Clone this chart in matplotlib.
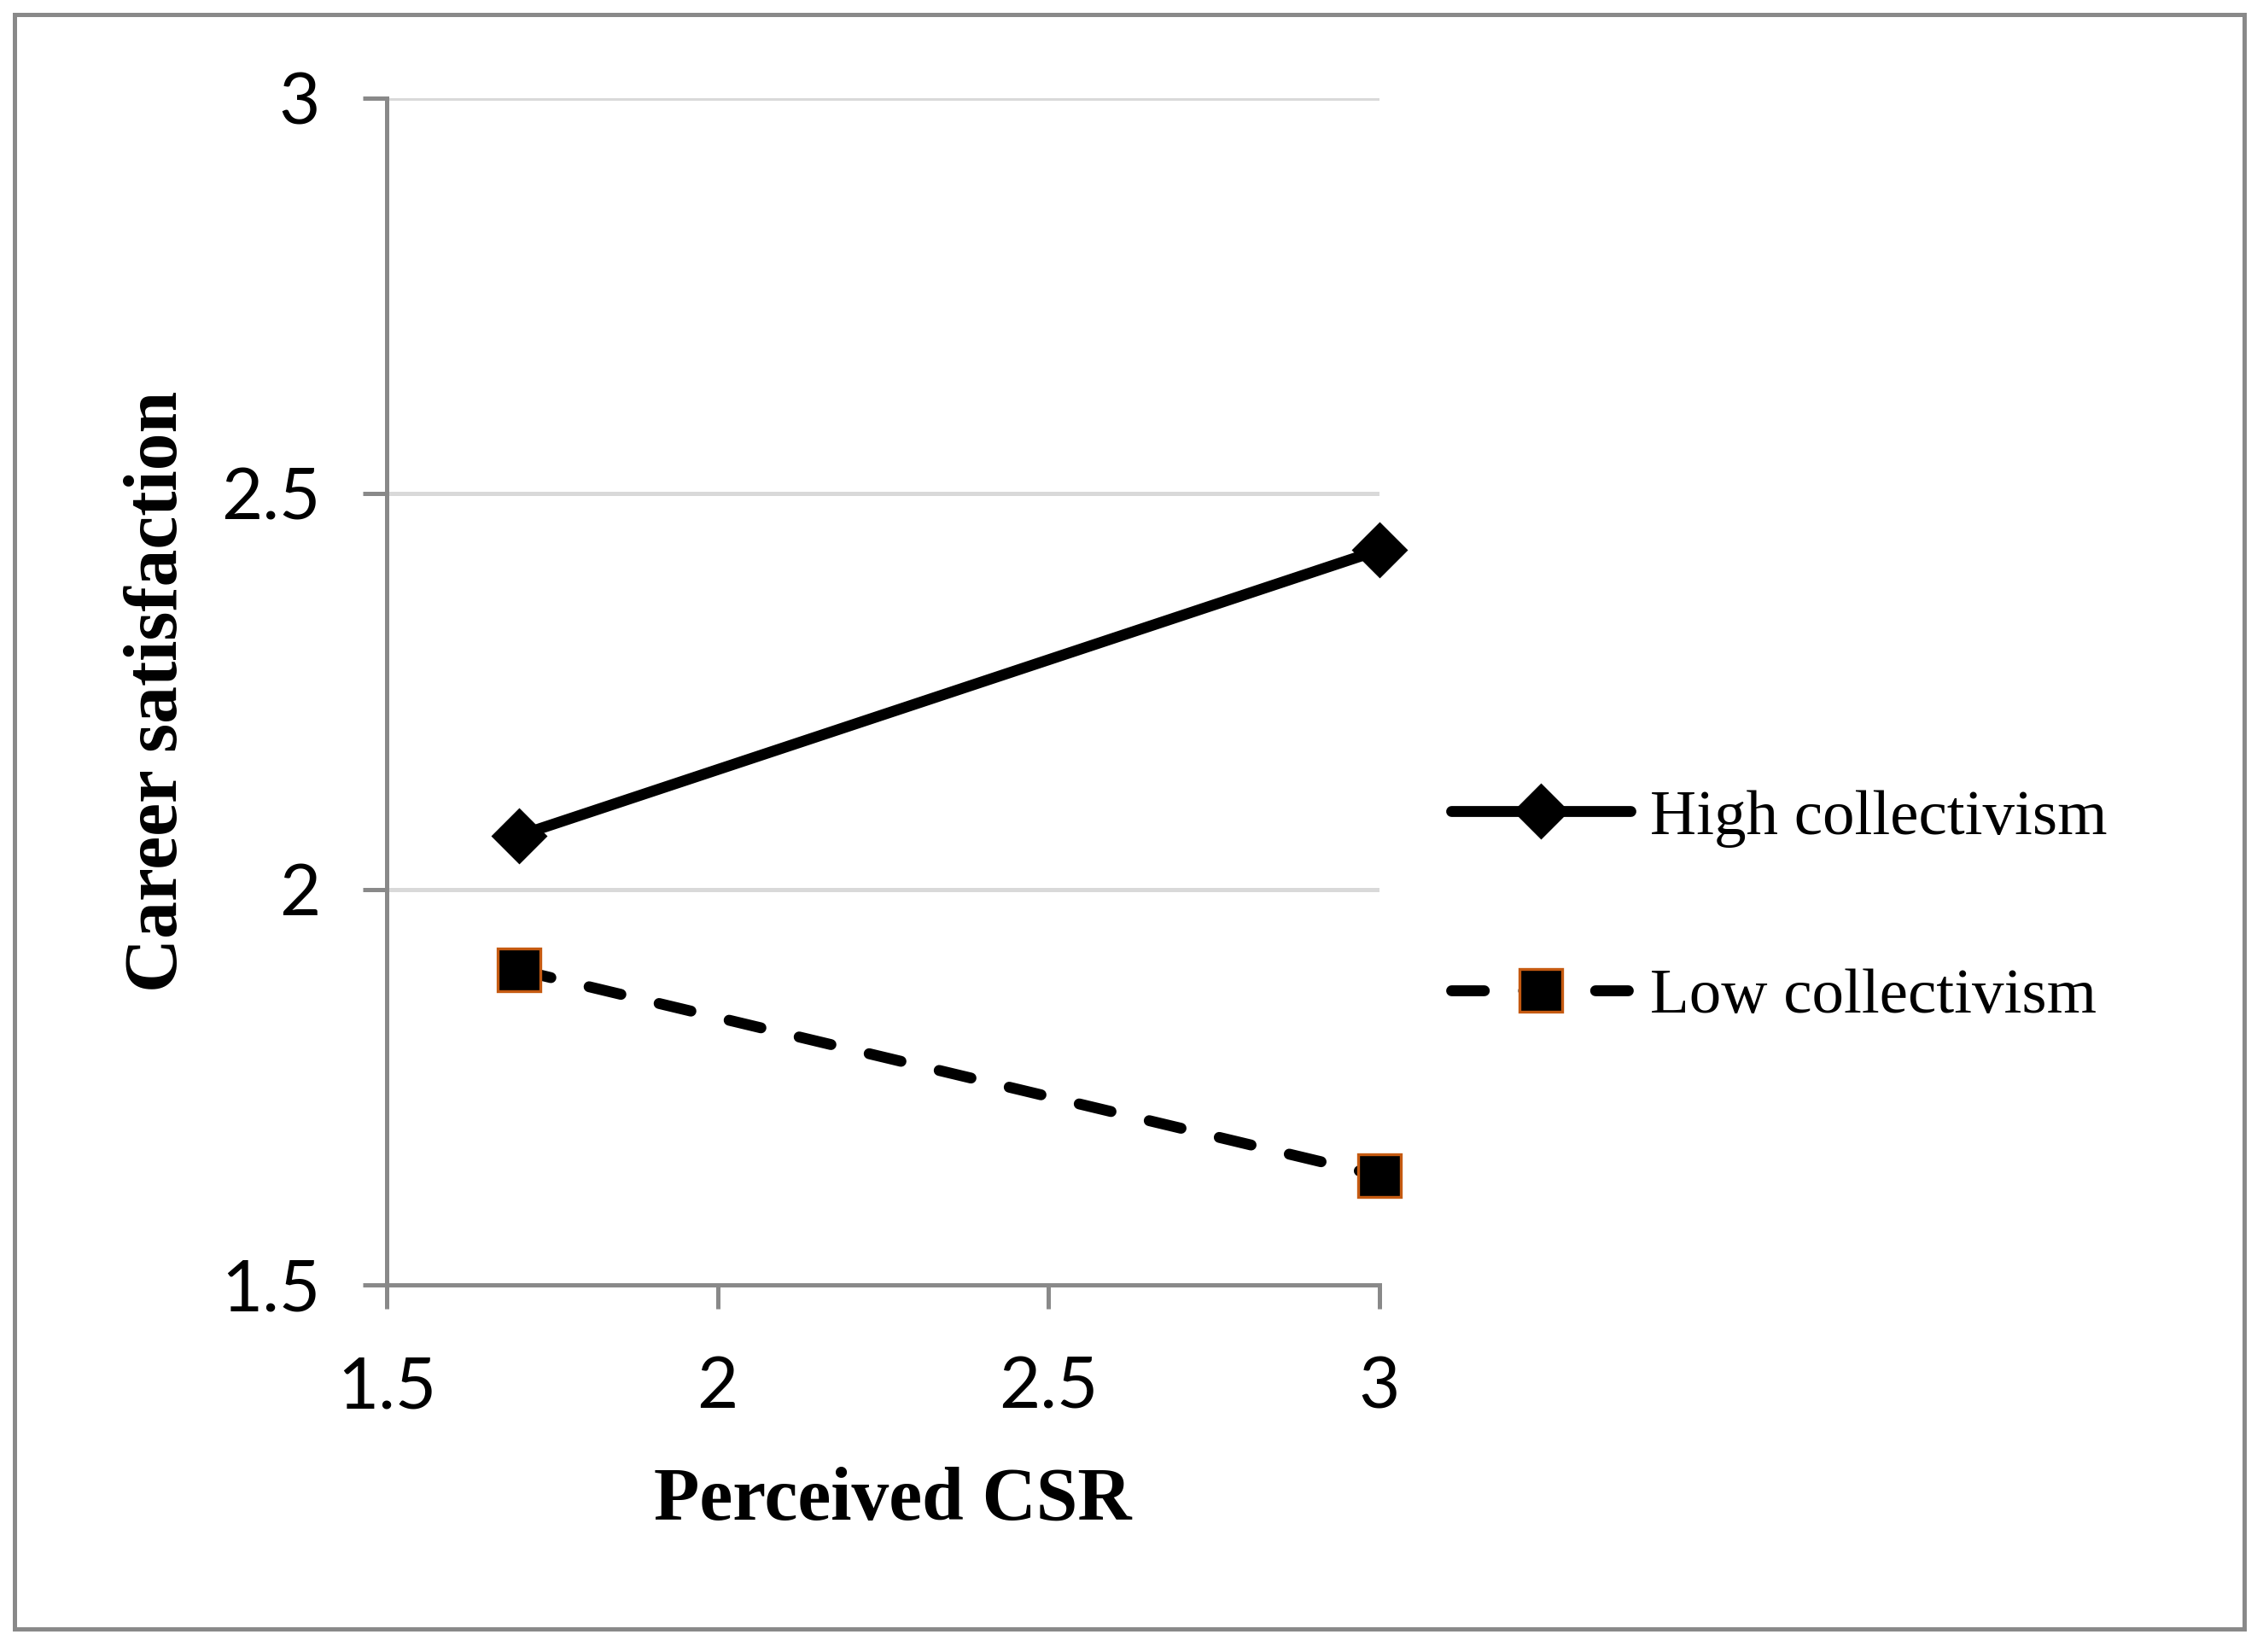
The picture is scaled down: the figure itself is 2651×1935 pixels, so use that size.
import matplotlib
matplotlib.use("Agg")
import matplotlib.pyplot as plt
from matplotlib.patches import Rectangle

# Data
csr = [1.7, 3.0]
high_coll = [2.068, 2.429]
low_coll = [1.898, 1.638]
series_names = ["High collectivism", "Low collectivism"]
x_ticks = [1.5, 2, 2.5, 3]
x_tick_labels = ["1.5", "2", "2.5", "3"]
y_ticks = [1.5, 2, 2.5, 3]
y_tick_labels = ["1.5", "2", "2.5", "3"]

W, H, DPI = 2651, 1935, 200
grid_grey = "#d9d9d9"
axis_grey = "#898989"

fig = plt.figure(figsize=(W / DPI, H / DPI), dpi=DPI)
ax = fig.add_axes([453 / W, 1 - 1505 / H, (1616 - 453) / W, (1505 - 115) / H])

ax.plot(csr, high_coll, color="black", lw=4.6, marker="D", ms=16,
        label=series_names[0], solid_capstyle="round", zorder=3, clip_on=False)
ax.plot(csr, low_coll, color="black", lw=4.6, marker="s", ms=18,
        mfc="black", mec="#c55a11", mew=1.2, dashes=(3.0, 3.6),
        dash_capstyle="round", label=series_names[1], zorder=3, clip_on=False)

ax.set_xlim(1.5, 3)
ax.set_ylim(1.5, 3)
ax.set_xticks(x_ticks, x_tick_labels)
ax.set_yticks(y_ticks, y_tick_labels)

for side in ("top", "right"):
    ax.spines[side].set_visible(False)
for side in ("left", "bottom"):
    ax.spines[side].set_color(axis_grey)
    ax.spines[side].set_linewidth(1.8)

ax.grid(axis="y", color=grid_grey, lw=1.8)
ax.set_axisbelow(True)
ax.tick_params(axis="both", colors=axis_grey, length=10, width=1.8,
               labelcolor="black", labelsize=30)
ax.tick_params(axis="y", pad=18)
ax.tick_params(axis="x", pad=20)
for lab in ax.get_xticklabels() + ax.get_yticklabels():
    lab.set_family(["Lato", "DejaVu Sans"])

ax.set_xlabel("Perceived CSR", family="Liberation Serif", fontweight="bold",
              fontsize=31.5)
ax.xaxis.set_label_coords(0.51, -0.153, transform=ax.transAxes)
ax.xaxis.label.set_va("top")
ax.set_ylabel("Career satisfaction", family="Liberation Serif", fontweight="bold",
              fontsize=31.5, labelpad=12)

fig.legend(loc="center left", bbox_to_anchor=(1700 / W, 1 - 1063 / H),
           frameon=False, prop={"family": "Liberation Serif", "size": 27},
           handlelength=2.8, handletextpad=0.3, labelspacing=1.88,
           borderaxespad=0, borderpad=0)

# outer chart frame
fig.patches.append(Rectangle((17 / W, 1 - 1908 / H), (2629 - 17) / W, (1908 - 17) / H,
                             transform=fig.transFigure, fill=False,
                             edgecolor=axis_grey, lw=1.8))

fig.savefig("out.png", dpi=DPI)
